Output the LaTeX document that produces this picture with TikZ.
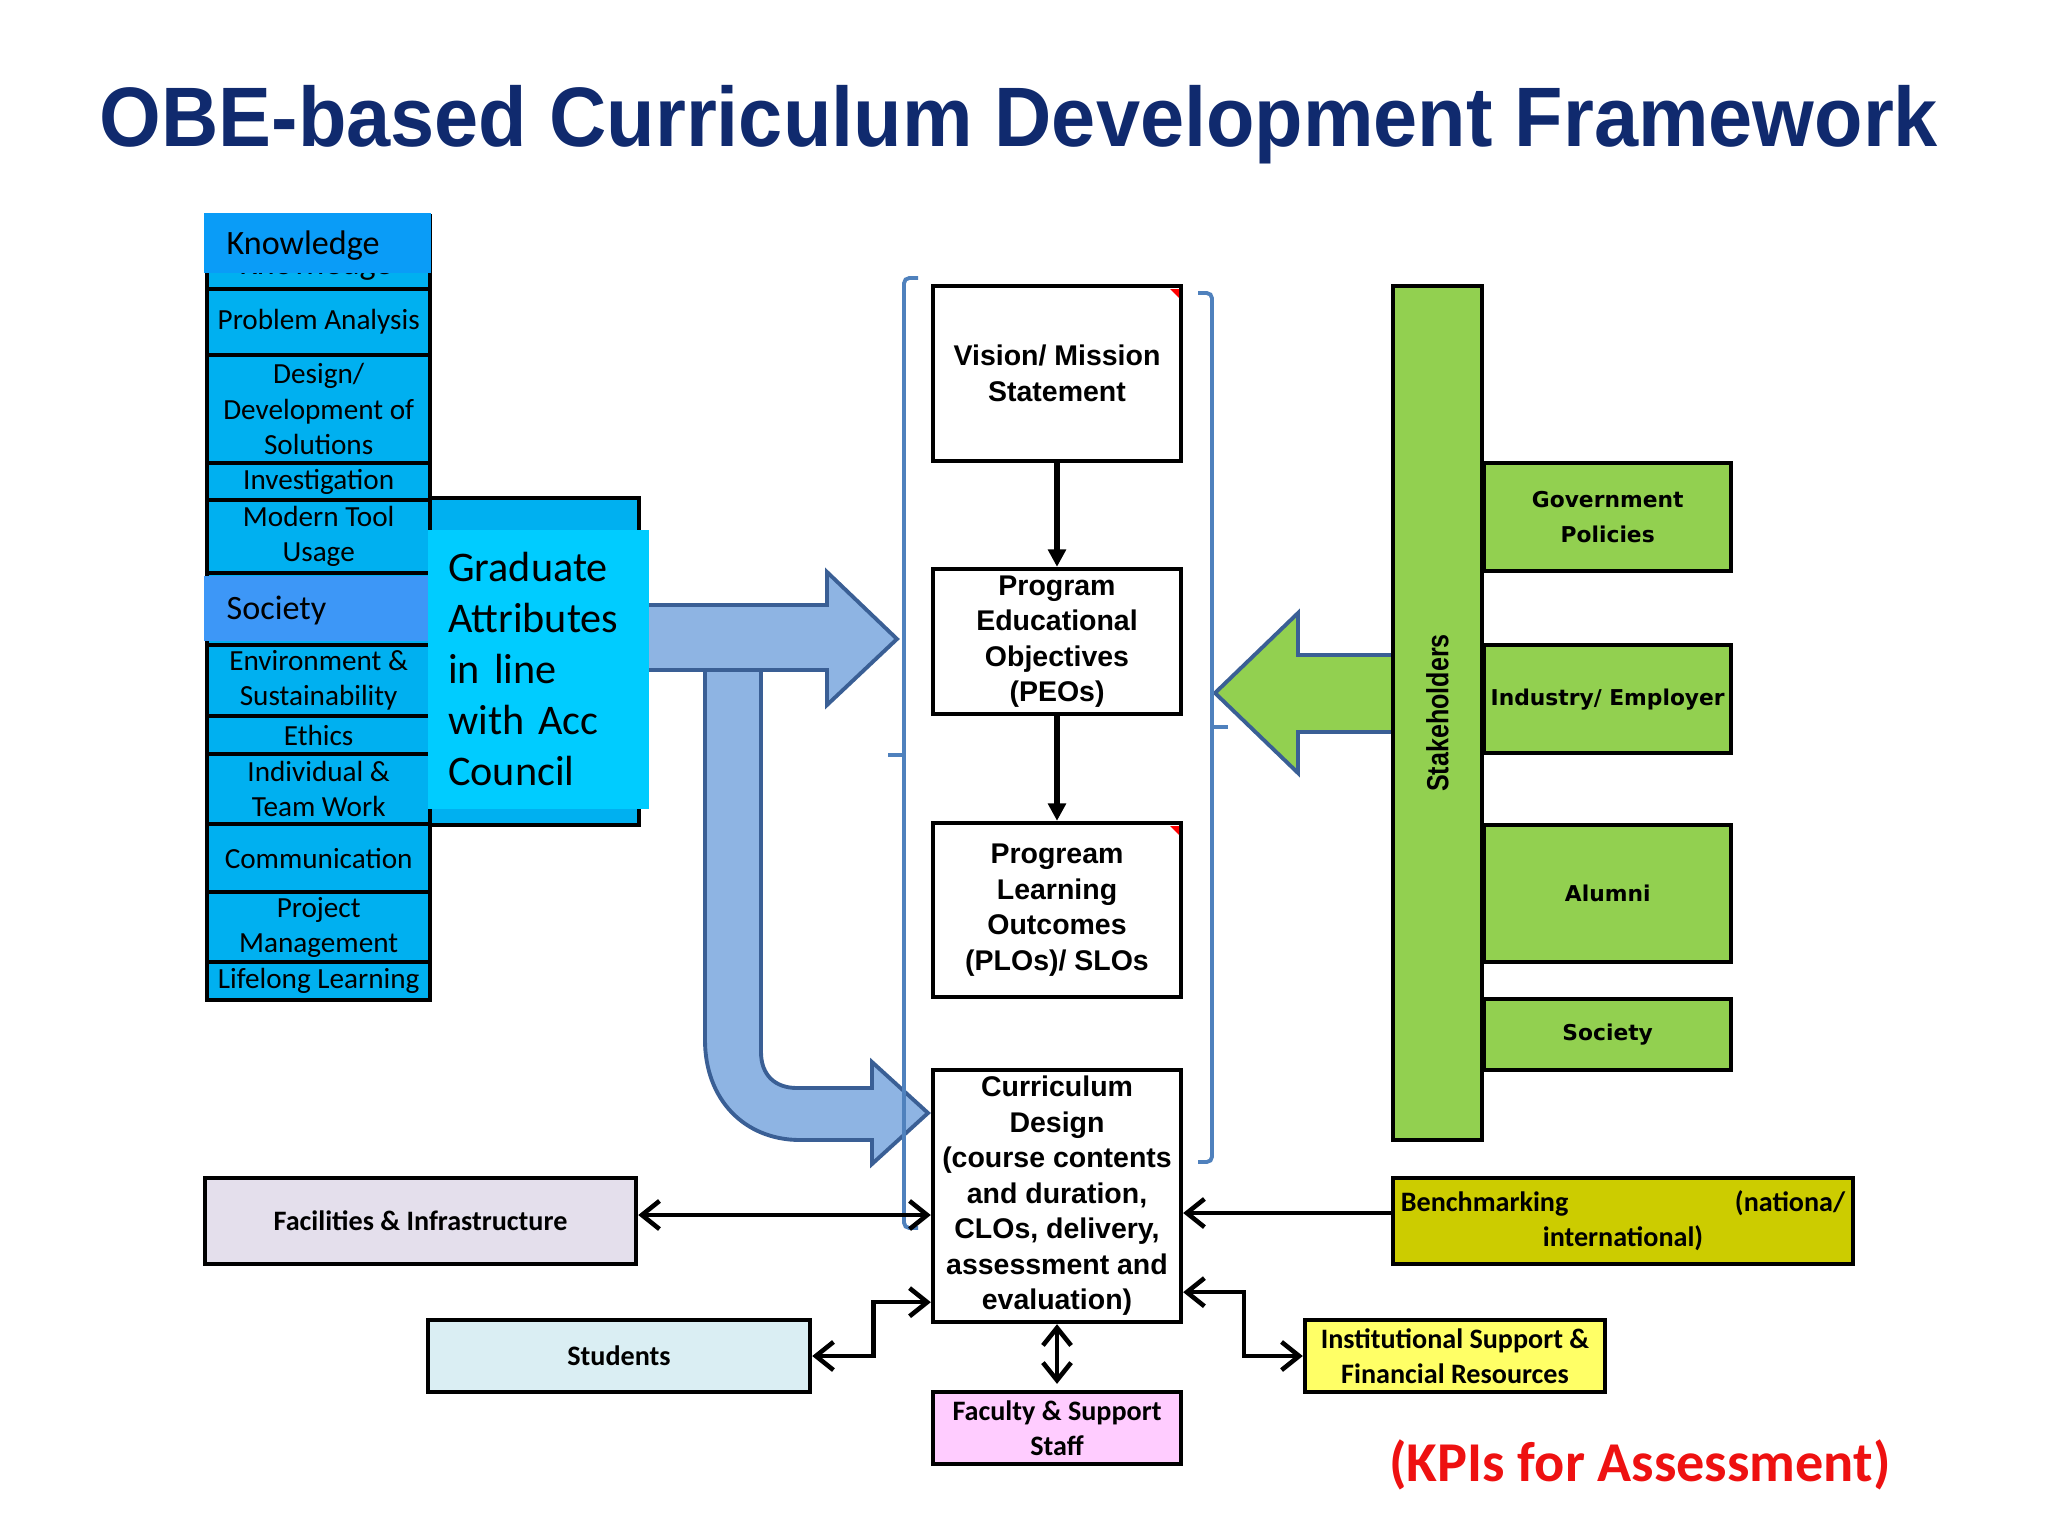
\documentclass[tikz,border=0pt]{standalone}
\usepackage{fontspec}
\setmainfont{Carlito}
\newfontfamily\arialfont{Liberation Sans}
\newfontfamily\titlefont[FakeStretch=0.94]{Liberation Sans}
\newfontfamily\narrowfont[FakeStretch=0.82]{Liberation Sans}
\newfontfamily\verdfont{DejaVu Sans}
\usetikzlibrary{positioning,arrows.meta,calc}
\definecolor{titleblue}{HTML}{102A6E}
\definecolor{cellblue}{HTML}{00B0F0}
\definecolor{knowhead}{HTML}{0A9CF7}
\definecolor{sochead}{HTML}{3D97F7}
\definecolor{gacyan}{HTML}{00CCFF}
\definecolor{arrowfill}{HTML}{8EB4E3}
\definecolor{arrowedge}{HTML}{3A5F95}
\definecolor{bracketc}{HTML}{4F81BD}
\definecolor{stakegreen}{HTML}{92D050}
\definecolor{facilc}{HTML}{E4DFEC}
\definecolor{studc}{HTML}{DAEEF3}
\definecolor{staffc}{HTML}{FFCCFF}
\definecolor{benchc}{HTML}{CCCC00}
\definecolor{institc}{HTML}{FFFF66}
\definecolor{kpired}{HTML}{EE1111}
\tikzset{
  gacellbox/.style={draw=black, line width=1.2pt, fill=cellblue, anchor=north west,
    minimum width=2.23cm, inner sep=0pt, align=center,
    font=\fontsize{8.3}{10}\selectfont},
  gahead/.style={fill=#1, anchor=north west, minimum width=2.27cm, inner sep=0pt,
    text width=1.81cm, text depth=0pt, align=left, font=\fontsize{9.7}{11}\selectfont},
  stepbox/.style={draw=black, line width=1.2pt, fill=white, minimum width=2.48cm,
    inner sep=1pt, align=center, font=\arialfont\bfseries\fontsize{8.1}{10.1}\selectfont},
  stakebox/.style={draw=black, line width=1.2pt, fill=stakegreen, minimum width=2.47cm,
    inner sep=1pt, align=center, font=\verdfont\bfseries\fontsize{6.2}{9.8}\selectfont},
  resbox/.style={draw=black, line width=1.2pt, fill=#1, inner sep=1pt, align=center,
    font=\bfseries\fontsize{8}{10}\selectfont},
  fatarrow/.style={fill=#1, draw=arrowedge, line width=1.1pt, line join=miter},
  bracket/.style={draw=bracketc, line width=1.1pt, rounded corners=1.5pt},
  flowarrow/.style={line width=1.6pt, -{Triangle[length=5pt,width=5pt]}},
  linkarrow/.style={line width=1.3pt, -{Straight Barb[length=5pt,width=8pt]}},
  twoway/.style={line width=1.3pt, {Straight Barb[length=5pt,width=8pt]}-{Straight Barb[length=5pt,width=8pt]}},
}
\newcommand{\gacell}[4]{%
  \node[gacellbox, minimum height={(#3-#2)*0.01cm}] (#1) at (205,#2) {#4};
}

\begin{document}
\begin{tikzpicture}[x=0.01cm, y=-0.01cm]
  \useasboundingbox (0,0) rectangle (2048,1536);
  % title
  \node[font=\titlefont\bfseries\fontsize{24}{28}\selectfont, text=titleblue] (title) at (1019,125)
    {OBE-based Curriculum Development Framework};

  % graduate attributes column
  \node[gacellbox, minimum width=2.09cm, minimum height=3.27cm] (gaback) at (428,496) {};
  \foreach \n/\t/\b/\txt in {know/214/287/{},
      prob/287/353/{Problem Analysis},
      dsgn/353/461/{Design/\\Development of\\Solutions},
      inv/461/498/{Investigation},
      tool/498/571/{Modern Tool\\Usage},
      socb/571/643/{},
      env/643/714/{Environment \&\\Sustainability},
      eth/714/752/{Ethics},
      team/752/822/{Individual \&\\Team Work},
      comm/822/890/{Communication},
      proj/890/960/{Project\\Management},
      life/960/998/{Lifelong Learning}}
    {\gacell{\n}{\t}{\b}{\txt}}
  \node[font=\fontsize{9.7}{11}\selectfont] (knowhid) at (316,266) {Knowledge};
  \node[gahead=knowhead, minimum height=0.6cm] (knowhd) at (203,212) {Knowledge};
  \node[gahead=sochead, minimum height=0.65cm] (sochd) at (203,575) {Society};

  % fat arrows
  \draw[fatarrow=arrowfill] (640,605) -- (827,605) -- (827,572) -- (897,639) -- (827,705)
    -- (827,670) -- (640,670) -- cycle;
  \draw[fatarrow=arrowfill] (705,670) -- (705,1040) .. controls (705,1100) and (745,1140) .. (800,1140)
    -- (872,1140) -- (872,1164) -- (928,1113) -- (872,1062) -- (872,1088) -- (797,1088)
    .. controls (775,1088) and (761,1075) .. (761,1052) -- (761,670) -- cycle;
  \node[fill=gacyan, anchor=north west, minimum width=2.21cm, minimum height=2.79cm,
    inner sep=0pt, text width=1.8cm, align=left, font=\fontsize{12}{14.5}\selectfont] (grad) at (427,529)
    {Graduate\\Attributes\\in line\\with Acc\\Council};

  % program steps
  \node[stepbox, minimum height=1.75cm] (vision) at (1057,373.5) {Vision/ Mission\\Statement};
  \node[stepbox, minimum height=1.45cm] (peo) at (1057,641.5) {Program\\Educational\\Objectives\\(PEOs)};
  \node[stepbox, minimum height=1.74cm] (plo) at (1057,910) {Progream\\Learning\\Outcomes\\(PLOs)/ SLOs};
  \node[stepbox, minimum height=2.52cm] (curr) at (1057,1196)
    {Curriculum\\Design\\(course contents\\and duration,\\CLOs, delivery,\\assessment and\\evaluation)};
  \fill[red] (1170,289) -- (1179,289) -- (1179,298) -- cycle;
  \fill[red] (1170,826) -- (1179,826) -- (1179,835) -- cycle;
  \draw[flowarrow] (vision) -- (peo);
  \draw[flowarrow] (peo) -- (plo);

  % stakeholders
  \draw[fatarrow=stakegreen] (1400,655) -- (1298,655) -- (1298,613) -- (1215,693) -- (1298,773)
    -- (1298,732) -- (1400,732) -- cycle;
  \node[stakebox, rotate=90, minimum width=8.54cm, minimum height=0.89cm,
    font=\narrowfont\bfseries\fontsize{8.7}{10}\selectfont] (stake) at (1437.5,713) {Stakeholders};
  \node[stakebox, anchor=north west, minimum height=1.08cm] (gov) at (1482,461) {Government\\Policies};
  \node[stakebox, anchor=north west, minimum height=1.08cm] (ind) at (1482,643) {Industry/ Employer};
  \node[stakebox, anchor=north west, minimum height=1.37cm] (alum) at (1482,823) {Alumni};
  \node[stakebox, anchor=north west, minimum height=0.71cm] (socst) at (1482,997) {Society};

  % brackets
  \draw[bracket] (918,278) -- (904,278) -- (904,1228) -- (918,1228);
  \draw[bracket] (904,755) -- (888,755);
  \draw[bracket] (1198,293) -- (1212,293) -- (1212,1162) -- (1198,1162);
  \draw[bracket] (1212,727) -- (1228,727);

  % resources
  \node[resbox=facilc, minimum width=4.31cm, minimum height=0.86cm] (facil) at (420.5,1221) {Facilities \& Infrastructure};
  \node[resbox=studc, minimum width=3.82cm, minimum height=0.72cm] (stud) at (619,1356) {Students};
  \node[resbox=staffc, minimum width=2.48cm, minimum height=0.72cm] (staff) at (1057,1428) {Faculty \& Support\\Staff};
  \node[resbox=benchc, minimum width=4.6cm, minimum height=0.86cm] (bench) at (1623,1221)
    {\makebox[4.44cm]{Benchmarking\hfill(nationa/}\\international)};
  \node[resbox=institc, minimum width=3.0cm, minimum height=0.72cm] (instit) at (1455,1356)
    {Institutional Support \&\\Financial Resources};
  \draw[twoway] ([yshift=0.06cm]facil.east) -- ([yshift=0.06cm]facil.east -| curr.west);
  \draw[linkarrow] ([yshift=0.08cm]bench.west) -- ([yshift=0.08cm]bench.west -| curr.east);
  \draw[twoway] (stud.east) -- ++(61,0) |- ([yshift=0.22cm]curr.south west);
  \draw[twoway] ([yshift=0.32cm]curr.south east) -- ++(61,0) |- (instit.west);
  \draw[twoway, shorten >=0.06cm] (curr) -- (staff);

  \node[font=\bfseries\fontsize{16}{19}\selectfont, text=kpired] (kpi) at (1640,1465) {(KPIs for Assessment)};
\end{tikzpicture}
\end{document}
